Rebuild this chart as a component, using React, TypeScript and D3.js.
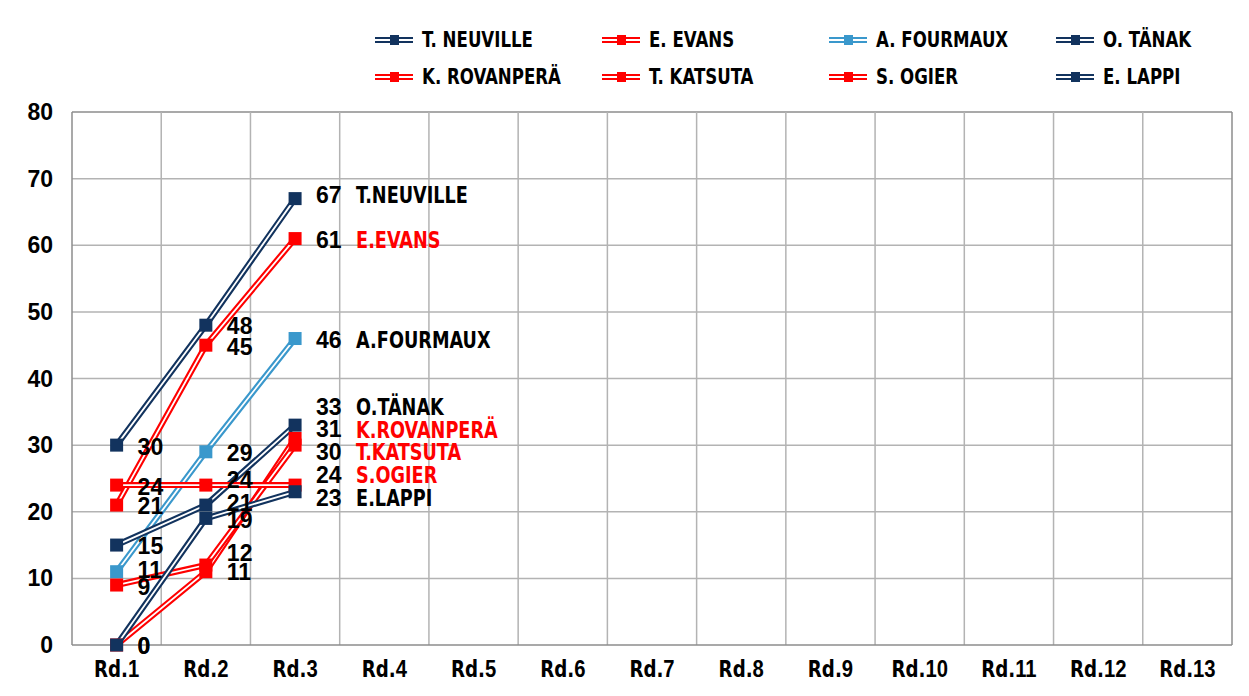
import * as d3 from 'd3';
import React from 'react';

// ラウンド
const rounds = [
  'Rd.1', 'Rd.2', 'Rd.3', 'Rd.4', 'Rd.5', 'Rd.6', 'Rd.7',
  'Rd.8', 'Rd.9', 'Rd.10', 'Rd.11', 'Rd.12', 'Rd.13',
];
const yTicks = [0, 10, 20, 30, 40, 50, 60, 70, 80];

const legendNames = [
  'T. NEUVILLE', 'E. EVANS', 'A. FOURMAUX', 'O. TÄNAK',
  'K. ROVANPERÄ', 'T. KATSUTA', 'S. OGIER', 'E. LAPPI',
];
const endNames = [
  'T.NEUVILLE', 'E.EVANS', 'A.FOURMAUX', 'O.TÄNAK',
  'K.ROVANPERÄ', 'T.KATSUTA', 'S.OGIER', 'E.LAPPI',
];

// 累積ポイント
const neuville = [30, 48, 67];
const evans = [21, 45, 61];
const fourmaux = [11, 29, 46];
const tanak = [15, 21, 33];
const rovanpera = [0, 11, 31];
const katsuta = [9, 12, 30];
const ogier = [24, 24, 24];
const lappi = [0, 19, 23];

const seriesValues = [neuville, evans, fourmaux, tanak, rovanpera, katsuta, ogier, lappi];

const NAVY = '#12335e';
const RED = '#ff0000';
const BLUE = '#3a98cc';
const seriesColors = [NAVY, RED, BLUE, NAVY, RED, RED, RED, NAVY];
const nameColors = ['#000', RED, '#000', '#000', RED, RED, RED, '#000'];

// ラベルの上下ずらし (px) : [Rd.1, Rd.2, 最終]
const labelNudge = [
  [2, 1, -4],
  [1, 2, 1],
  [-2, 1, 1],
  [1, -2, -18],
  [1, 0, -9],
  [2, -12, 7],
  [2, -5, -10],
  [1, 2, 6],
];

const NUM_FONT = "'Liberation Sans', Arial, sans-serif";
const NAME_FONT = "'Liberation Sans Narrow', 'DejaVu Sans Condensed', 'Roboto', sans-serif";

const W = 1249;
const H = 696;
const plot = { left: 72, right: 1232, top: 112, bottom: 645 };

// 横方向に詰めたテキスト
const NarrowText: React.FC<{
  x: number; y: number; sx: number; size: number; fill?: string;
  anchor?: 'start' | 'middle' | 'end'; children: React.ReactNode;
}> = ({ x, y, sx, size, fill = '#000', anchor = 'start', children }) => (
  <text transform={`translate(${x},${y}) scale(${sx},1)`} textAnchor={anchor}
    dominantBaseline="central" fontFamily={NAME_FONT} fontWeight="bold"
    fontSize={size} fill={fill}>
    {children}
  </text>
);

const App: React.FC = () => {
  const x = d3.scaleBand<string>().domain(rounds).range([plot.left, plot.right]);
  const y = d3.scaleLinear().domain([0, 80]).range([plot.bottom, plot.top]);
  const cx = (i: number) => (x(rounds[i]) as number) + x.bandwidth() / 2;

  const line = d3
    .line<number>()
    .x((_, i) => cx(i))
    .y((d) => y(d));

  const grid = '#b3b3b3';
  const axisCol = '#8c8c8c';

  return (
    <svg
      width={W}
      height={H}
      style={{ position: 'absolute', left: 0, top: 0, background: '#fff' }}
    >
      {/* グリッド */}
      {yTicks.slice(1).map((t) => (
        <line key={'h' + t} x1={plot.left} x2={plot.right} y1={y(t)} y2={y(t)}
          stroke={t === 80 ? axisCol : grid} strokeWidth={1.5} />
      ))}
      {rounds.slice(1).map((r) => (
        <line key={'v' + r} x1={x(r)} x2={x(r)} y1={plot.top} y2={plot.bottom}
          stroke={grid} strokeWidth={1.5} />
      ))}
      <line x1={plot.right} x2={plot.right} y1={plot.top} y2={plot.bottom} stroke={axisCol} strokeWidth={1.5} />
      <line x1={plot.left} x2={plot.left} y1={plot.top} y2={plot.bottom} stroke={axisCol} strokeWidth={1.5} />
      <line x1={plot.left} x2={plot.right} y1={plot.bottom} y2={plot.bottom} stroke={axisCol} strokeWidth={1.5} />

      {/* Y軸ラベル */}
      {yTicks.map((t) => (
        <text key={'yt' + t} x={53} y={y(t)} textAnchor="end" dominantBaseline="central"
          fontFamily={NUM_FONT} fontWeight="bold" fontSize={23}>
          {t}
        </text>
      ))}
      {/* X軸ラベル */}
      {rounds.map((r) => (
        <NarrowText key={'xt' + r} x={(x(r) as number) + x.bandwidth() / 2} y={669}
          sx={0.88} size={23} anchor="middle">
          <tspan>Rd.</tspan>
          <tspan fontFamily={NUM_FONT}>{r.slice(3)}</tspan>
        </NarrowText>
      ))}

      {/* 線 */}
      {seriesValues.map((vals, s) => (
        <g key={'l' + s}>
          <path d={line(vals) as string} fill="none" stroke={seriesColors[s]} strokeWidth={6} />
          <path d={line(vals) as string} fill="none" stroke="#fff" strokeWidth={1.8} />
        </g>
      ))}
      {/* マーカー */}
      {seriesValues.map((vals, s) =>
        vals.map((v, i) => (
          <rect key={`m${s}-${i}`} x={cx(i) - 6.5} y={y(v) - 6.5} width={13} height={13}
            fill={seriesColors[s]} />
        ))
      )}

      {/* データラベル */}
      {seriesValues.map((vals, s) =>
        vals.map((v, i) => {
          const last = i === vals.length - 1;
          const ly = y(v) + labelNudge[s][i];
          return (
            <g key={`d${s}-${i}`}>
              <text x={cx(i) + 21} y={ly} dominantBaseline="central"
                fontFamily={NUM_FONT} fontWeight="bold" fontSize={23} fill="#000">
                {v}
              </text>
              {last && (
                <NarrowText x={cx(i) + 61} y={ly} sx={0.855} size={23} fill={nameColors[s]}>
                  {endNames[s]}
                </NarrowText>
              )}
            </g>
          );
        })
      )}

      {/* 凡例 */}
      {legendNames.map((name, s) => {
        const lx = 375 + (s % 4) * 227;
        const ly = s < 4 ? 40 : 77;
        return (
          <g key={'lg' + s}>
            <line x1={lx} x2={lx + 38} y1={ly} y2={ly} stroke={seriesColors[s]} strokeWidth={6} />
            <line x1={lx} x2={lx + 38} y1={ly} y2={ly} stroke="#fff" strokeWidth={1.8} />
            <rect x={lx + 15} y={ly - 5} width={9} height={10} fill={seriesColors[s]} />
            <NarrowText x={lx + 47} y={ly} sx={0.88} size={21}>
              {name}
            </NarrowText>
          </g>
        );
      })}
    </svg>
  );
};

export default App;
